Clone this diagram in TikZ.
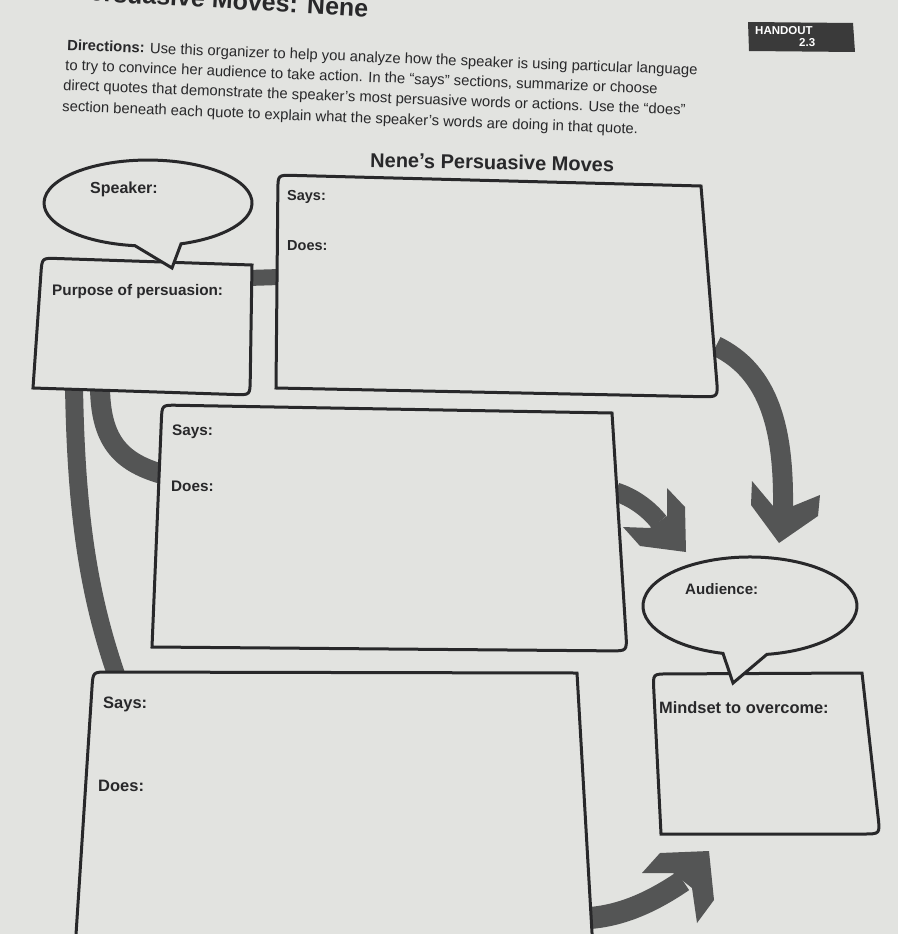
\documentclass[tikz,border=0pt]{standalone}
\usepackage{fontspec}
\setmainfont{Liberation Sans}
\usetikzlibrary{calc}
\definecolor{paper}{RGB}{226,227,224}
\definecolor{ink}{RGB}{40,40,42}
\definecolor{bandgray}{RGB}{84,85,85}
\definecolor{tagbg}{RGB}{58,58,58}
\begin{document}
\begin{tikzpicture}[x=1pt,y=-1pt,
  boxframe/.style={draw=ink,line width=3pt,fill=paper},
  band/.style={draw=bandgray,line width=#1},
  band/.default=19pt,
  headshape/.style={fill=bandgray},
  lbl/.style={anchor=base west,inner sep=0pt,text=ink,font=\bfseries\fontsize{#1}{#1}\selectfont},
  lbl/.default=15,
  dirline/.style={anchor=base west,inner sep=0pt,text=ink,rotate=-2.3,font=\fontsize{14.8}{16}\selectfont}]
\useasboundingbox (0,0) rectangle (898,934);
\clip (0,0) rectangle (898,934);
\fill[paper] (0,0) rectangle (898,934);

% corner coordinates
\coordinate (p1) at (42,258);  \coordinate (p2) at (252,265);
\coordinate (p3) at (250,395); \coordinate (p4) at (33,388);
\coordinate (t1) at (278,175); \coordinate (t2) at (701,186);
\coordinate (t3) at (718,397); \coordinate (t4) at (276,388);
\coordinate (m1) at (162,405); \coordinate (m2) at (612,413);
\coordinate (m3) at (627,651); \coordinate (m4) at (152,647);
\coordinate (b1) at (93,672);  \coordinate (b2) at (577,673);
\coordinate (b3) at (593,950); \coordinate (b4) at (75,950);
\coordinate (n1) at (653,674); \coordinate (n2) at (862,673);
\coordinate (n3) at (880,834); \coordinate (n4) at (661,834);

% stems from purpose box
\coordinate (s1a) at (74,385);  \coordinate (s1b) at (118,680);
\draw[band=18pt] (s1a) .. controls (76,520) and (90,600) .. (s1b);
\coordinate (s2a) at (100,385); \coordinate (s2b) at (162,474);
\draw[band=20pt] (s2a) .. controls (100,440) and (120,462) .. (s2b);
% bar between purpose box and top box
\coordinate (bar1) at (248,278); \coordinate (bar2) at (280,277);
\draw[band=16pt] (bar1) -- (bar2);

% big arc arrow to audience
\coordinate (a1s) at (716,346); \coordinate (a1e) at (783,508);
\draw[band=20pt] (a1s) .. controls (770,372) and (784,430) .. (a1e);
\fill[headshape] (752,481) -- (773,506) -- (793,506) -- (820,495) -- (818,516) -- (779,543) -- (751,505) -- cycle;
% small arrow to audience
\coordinate (a2s) at (616,492); \coordinate (a2e) at (659,522);
\draw[band=19pt] (a2s) .. controls (632,497) and (648,508) .. (a2e);
\fill[headshape] (667,488) -- (685,507) -- (686,552) -- (640,546) -- (623,527) -- (650,528) -- (667,516) -- cycle;
% bottom arrow to mindset
\coordinate (a3s) at (590,918); \coordinate (a3e) at (683,881);
\draw[band=22pt] (a3s) .. controls (625,915) and (655,900) .. (a3e);
\fill[headshape] (709,851) -- (714,900) -- (697,923) -- (692,888) -- (673,873) -- (642,873) -- (660,853) -- cycle;

% boxes
\draw[boxframe] ($(p1)!15pt!(p4)$) .. controls (p1) .. ($(p1)!15pt!(p2)$) -- (p2)
  -- ($(p3)!15pt!(p2)$) .. controls (p3) .. ($(p3)!15pt!(p4)$) -- (p4) -- cycle;
\draw[boxframe] ($(t1)!15pt!(t4)$) .. controls (t1) .. ($(t1)!15pt!(t2)$) -- (t2)
  -- ($(t3)!17pt!(t2)$) .. controls (t3) .. ($(t3)!17pt!(t4)$) -- (t4) -- cycle;
\draw[boxframe] ($(m1)!15pt!(m4)$) .. controls (m1) .. ($(m1)!15pt!(m2)$) -- (m2)
  -- ($(m3)!17pt!(m2)$) .. controls (m3) .. ($(m3)!17pt!(m4)$) -- (m4) -- cycle;
\draw[boxframe] ($(b1)!15pt!(b4)$) .. controls (b1) .. ($(b1)!15pt!(b2)$) -- (b2)
  -- (b3) -- (b4) -- cycle;
\draw[boxframe] ($(n1)!15pt!(n4)$) .. controls (n1) .. ($(n1)!15pt!(n2)$) -- (n2)
  -- ($(n3)!17pt!(n2)$) .. controls (n3) .. ($(n3)!17pt!(n4)$) -- (n4) -- cycle;

% speech bubbles
\draw[boxframe] (135,245.7) arc[start angle=97.2, end angle=431.5, x radius=104, y radius=43] -- (172,268) -- cycle;
\draw[boxframe] (723,653.4) arc[start angle=104.6, end angle=440.9, x radius=107, y radius=49] -- (733,683) -- cycle;

% handout tag
\fill[tagbg] (748,22) -- (853,23) -- (855,52) -- (749,51) -- cycle;
\node[anchor=base west,inner sep=0pt,text=white,font=\bfseries\fontsize{11.5}{11.5}\selectfont] (tag1) at (755,35) {HANDOUT};
\node[anchor=base west,inner sep=0pt,text=white,font=\bfseries\fontsize{11.5}{11.5}\selectfont] (tag2) at (799,47) {2.3};

% titles
\node[anchor=base east,inner sep=0pt,text=ink,rotate=-3.3,font=\bfseries\fontsize{25}{25}\selectfont] (toptitle) at (368,17) {Persuasive Moves: Nene};
\node[anchor=base west,inner sep=0pt,text=ink,rotate=-1.1,font=\bfseries\fontsize{20}{20}\selectfont] (title) at (370,167) {Nene’s Persuasive Moves};

% directions
\node[dirline] (d1) at (67,50) {\textbf{Directions:} Use this organizer to help you analyze how the speaker is using particular language};
\node[dirline] (d2) at (65,70) {to try to convince her audience to take action. In the “says” sections, summarize or choose};
\node[dirline] (d3) at (63,90) {direct quotes that demonstrate the speaker’s most persuasive words or actions. Use the “does”};
\node[dirline] (d4) at (62,111) {section beneath each quote to explain what the speaker’s words are doing in that quote.};

% labels
\node[lbl=16] (spk) at (90,193) {Speaker:};
\node[lbl=14.5] (says1) at (287,200) {Says:};
\node[lbl=14.5] (does1) at (287,250) {Does:};
\node[lbl=15.3] (purp) at (52,295.5) {Purpose of persuasion:};
\node[lbl=15.3] (says2) at (172,435.5) {Says:};
\node[lbl=15.3] (does2) at (171,491.5) {Does:};
\node[lbl=15.1] (aud) at (685,594.5) {Audience:};
\node[lbl=16.5] (says3) at (103,708) {Says:};
\node[lbl=16.5] (does3) at (98,791) {Does:};
\node[lbl=16.4] (mind) at (659,713) {Mindset to overcome:};
\end{tikzpicture}
\end{document}
